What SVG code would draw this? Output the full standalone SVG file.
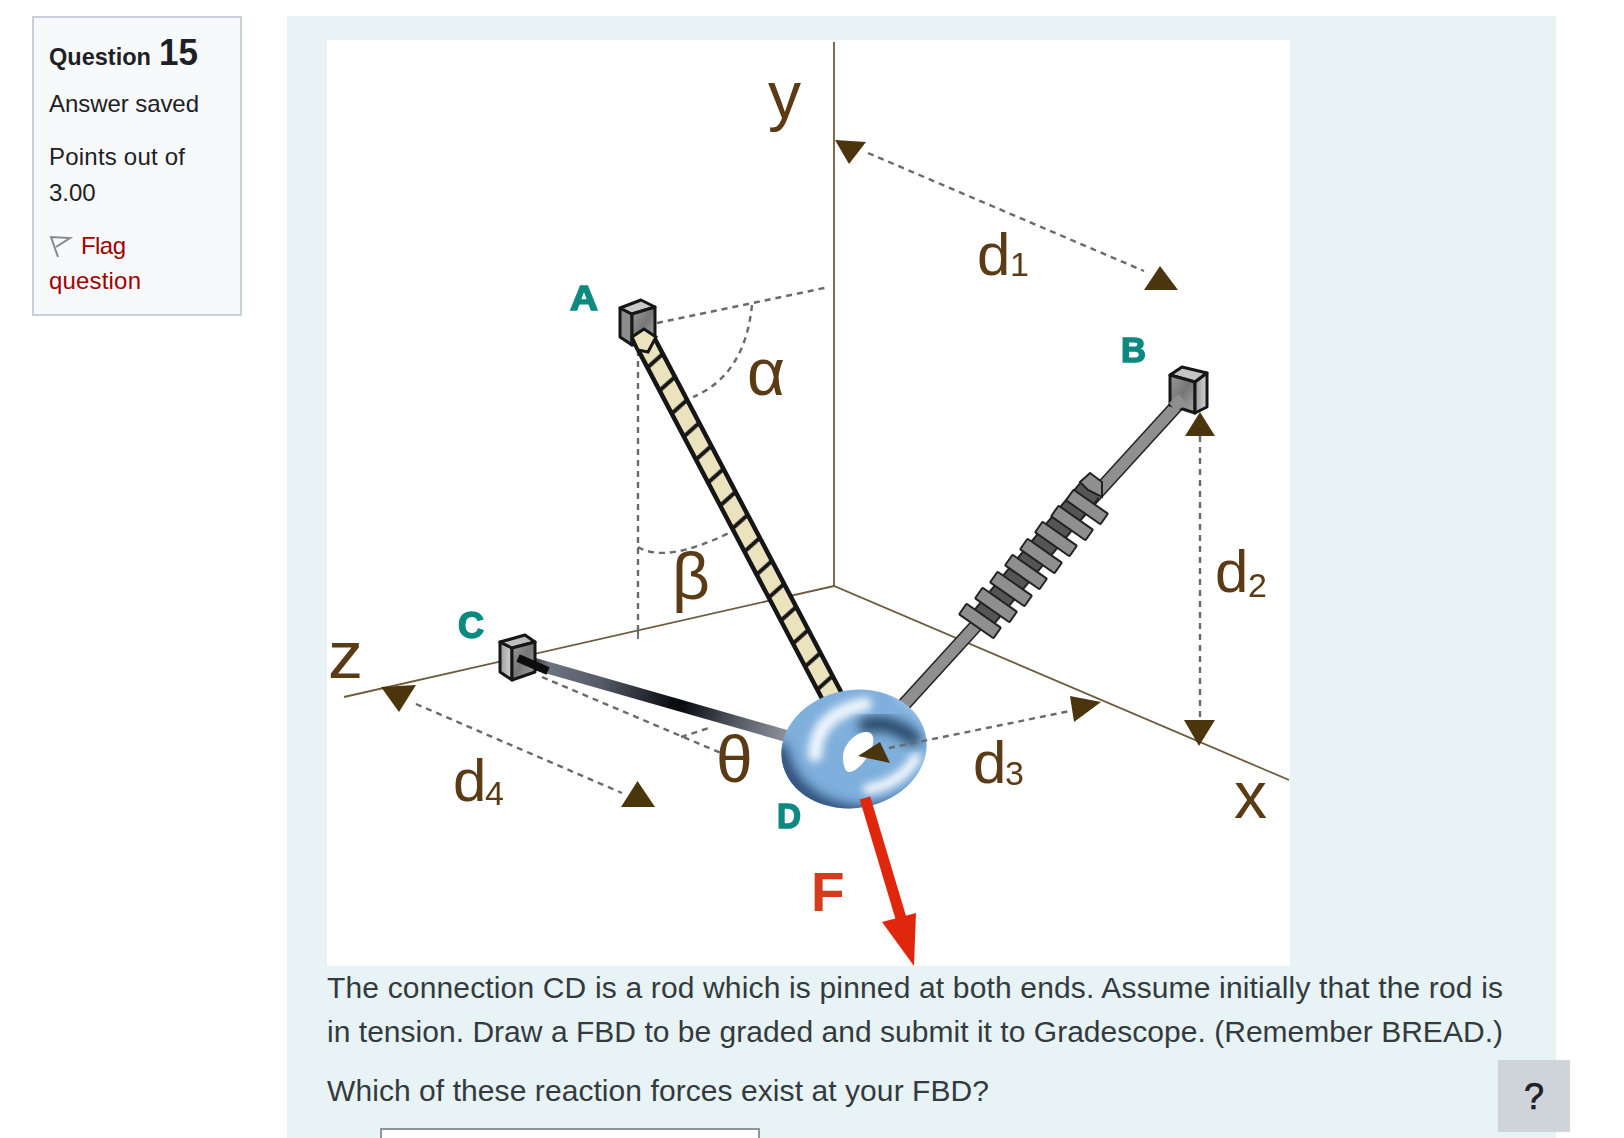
<svg xmlns="http://www.w3.org/2000/svg" width="1624" height="1138" viewBox="0 0 1624 1138">
<style>
text{font-family:"Liberation Sans",Arial,sans-serif}
.ui{font-size:24px;fill:#1d2125}
.body{font-size:30px;fill:#343a3d}
.red{font-size:24px;fill:#a00000}
.lab{font-size:66px;fill:#5a3a12}
.dv{font-size:60px;fill:#5a3a12}
.sub{font-size:34px;fill:#5a3a12}
.pt{font-size:35px;font-weight:700;fill:#0b8a80;stroke:#0b8a80;stroke-width:1.5px}
.ax{fill:none;stroke:#6d5b3f;stroke-width:1.8}
.dash{fill:none;stroke:#6a6a6a;stroke-width:2.4;stroke-dasharray:6 5}
.tri{fill:#4c3510}
.bl{stroke:#151515;stroke-width:3;stroke-linejoin:round}
</style>
<defs>
<pattern id="hatch" width="26" height="24" patternUnits="userSpaceOnUse" x="-6" y="-12">
<rect width="26" height="24" fill="#ebe3bd"/>
<path d="M15.500 24L9.500 0" stroke="#151515" stroke-width="4" fill="none"/>
</pattern>
<linearGradient id="front" x1="0" y1="0" x2="1" y2="1"><stop offset="0" stop-color="#9a9a9a"/><stop offset=".5" stop-color="#777"/><stop offset="1" stop-color="#a8a8a8"/></linearGradient>
<linearGradient id="side" x1="0" y1="0" x2="1" y2="0"><stop offset="0" stop-color="#9c9c9c"/><stop offset="1" stop-color="#d2d2d2"/></linearGradient>
<linearGradient id="cd" gradientUnits="userSpaceOnUse" x1="521" y1="660" x2="785" y2="735">
<stop offset="0" stop-color="#111"/><stop offset=".1" stop-color="#6d7480"/><stop offset=".3" stop-color="#555b68"/><stop offset=".6" stop-color="#05070d"/><stop offset=".82" stop-color="#555b66"/><stop offset="1" stop-color="#8b8f98"/>
</linearGradient>
<filter id="b6" x="-50%" y="-50%" width="200%" height="200%"><feGaussianBlur stdDeviation="6"/></filter>
<filter id="b3" x="-50%" y="-50%" width="200%" height="200%"><feGaussianBlur stdDeviation="4"/></filter>
<filter id="soft" x="0" y="0" width="100%" height="100%" filterUnits="userSpaceOnUse"><feGaussianBlur stdDeviation="0.6"/></filter>
<clipPath id="torclip"><ellipse cx="854" cy="749" rx="73" ry="59" transform="rotate(-10 854 749)"/></clipPath>
<g id="plate"><rect x="-21" y="-6.500" width="42" height="13" rx="1" fill="#8f8f8f" stroke="#222" stroke-width="2" transform="rotate(35)"/></g>
</defs>

<rect width="1624" height="1138" fill="#fff"/>
<g id="info">
<rect x="33" y="17" width="208" height="298" fill="#f8f9fb" stroke="#c8d1da" stroke-width="2"/>
<text x="49" y="65" textLength="102" lengthAdjust="spacingAndGlyphs" style="font-size:24px;font-weight:700;fill:#1d2125">Question</text>
<text x="159" y="65" textLength="39" lengthAdjust="spacingAndGlyphs" style="font-size:37px;font-weight:700;fill:#1d2125">15</text>
<text class="ui" x="49" y="112" textLength="150">Answer saved</text>
<text class="ui" x="49" y="165" textLength="136">Points out of</text>
<text class="ui" x="49" y="201">3.00</text>
<path d="M58 257L51 237L70 238L56 247" fill="none" stroke="#888" stroke-width="2"/>
<text class="red" x="81" y="254" textLength="45">Flag</text>
<text class="red" x="49" y="289" textLength="92">question</text>
</g>
<rect id="panel" x="287" y="16" width="1269" height="1122" fill="#e7f3f5"/>
<rect id="figure" x="327" y="40" width="963" height="926" fill="#fff"/>

<g filter="url(#soft)">
<g id="connectors">
<path class="ax" d="M834 42V586"/>
<path class="ax" d="M344 697L834 586L1289 780"/>
<path d="M638 627v12" stroke="#444" stroke-width="1.5"/>
<path class="dash" d="M657 323L829 287"/>
<path class="dash" d="M638 350V633"/>
<path class="dash" d="M752 305Q745 375 693 397"/>
<path class="dash" d="M638 547Q666 564 731 532"/>
<path class="dash" d="M868 153L1144 271"/>
<path class="dash" d="M1200 436V720"/>
<path class="dash" d="M416 704L622 793"/>
<path class="dash" d="M542 677L721 753"/>
<path class="dash" d="M681 737L712 727"/>
</g>

<g id="rod-cd"><path d="M521 660L790 737" stroke="url(#cd)" stroke-width="12" fill="none"/></g>
<g id="rod-ad" transform="translate(640 332) rotate(62.2)">
<rect x="-6" y="-10" width="425" height="20" fill="url(#hatch)" stroke="#151515" stroke-width="4.500"/>
</g>
<g id="spring-bd">
<path d="M1180 402L900 709" stroke="#222" stroke-width="14" fill="none"/>
<path d="M1180 402L900 709" stroke="#8f8f8f" stroke-width="11" fill="none"/>
<path d="M1090 490L980 622" stroke="#222" stroke-width="26" fill="none"/>
<path d="M1090 490L980 622" stroke="#555" stroke-width="22" fill="none"/>
<path d="M1080 482L1090 473L1102 482V497L1088 490Z" fill="#8f8f8f" stroke="#222" stroke-width="2"/>
<use href="#plate" x="1087" y="507"/><use href="#plate" x="1072" y="523"/><use href="#plate" x="1056" y="539"/><use href="#plate" x="1041" y="556"/>
<use href="#plate" x="1026" y="572"/><use href="#plate" x="1011" y="589"/><use href="#plate" x="996" y="605"/><use href="#plate" x="980" y="621"/>
</g>
<g id="node-A">
<path class="bl" d="M620 308L632 314V345L620 337Z" fill="#8c8c8c"/>
<path class="bl" d="M620 308L641 300L655 307L632 314Z" fill="#c9c9c9"/>
<path class="bl" d="M632 314L655 307V337L632 345Z" fill="url(#front)"/>
<path d="M632 337L644 329L656 337L648 352L638 350Z" fill="#ebe3bd" stroke="#151515" stroke-width="3"/>
<text class="pt" x="570" y="310" textLength="28" lengthAdjust="spacingAndGlyphs">A</text>
</g>
<g id="node-B">
<path class="bl" d="M1170 375L1182 367L1207 373L1195 382Z" fill="#c4c4c4"/>
<path class="bl" d="M1170 375L1195 382V413L1170 405Z" fill="url(#front)"/>
<path class="bl" d="M1195 382L1207 373V407L1195 413Z" fill="url(#side)"/>
<path d="M1169 403L1179 394L1187 404L1176 412Z" fill="#8f8f8f"/>
<text class="pt" x="1121" y="362" textLength="25" lengthAdjust="spacingAndGlyphs">B</text>
</g>
<g id="node-C">
<path class="bl" d="M500 642L512 648V680L500 672Z" fill="url(#side)"/>
<path class="bl" d="M500 642L525 635L535 642L512 648Z" fill="#bdbdbd"/>
<path class="bl" d="M512 648L535 642V672L512 680Z" fill="url(#front)"/>
<path d="M518 658L548 671" stroke="#0c0c0c" stroke-width="8" fill="none"/>
<text class="pt" x="458" y="638" textLength="26" lengthAdjust="spacingAndGlyphs" style="font-size:36px">C</text>
</g>
<g id="node-D">
<ellipse cx="854" cy="749" rx="73" ry="59" fill="#7fafdc" transform="rotate(-10 854 749)"/>
<g clip-path="url(#torclip)">
<path d="M778 745Q790 805 855 814Q900 815 930 785" fill="none" stroke="#1c3a64" stroke-width="16" opacity=".85" filter="url(#b6)"/>
<path d="M815 755Q815 715 865 704" fill="none" stroke="#f0f7fd" stroke-width="14" stroke-linecap="round" filter="url(#b3)"/>
<path d="M860 727Q888 716 918 742" fill="none" stroke="#23415f" stroke-width="14" filter="url(#b6)"/>
<path d="M868 789Q900 784 916 758" fill="none" stroke="#ffffff" stroke-width="10" stroke-linecap="round" filter="url(#b3)"/>
<path d="M895 690Q925 705 935 735" fill="none" stroke="#b5d6f2" stroke-width="10" filter="url(#b6)"/>
</g>
<path d="M843 757C843 744 856 732 866 732C875 732 875 742 870 752C864 764 855 772 849 772C845 772 843 765 843 757Z" fill="#fff"/>
<text class="pt" x="777" y="828" textLength="24" lengthAdjust="spacingAndGlyphs">D</text>
</g>
<g id="force-F">
<path d="M865 798L903 925" stroke="#e0280c" stroke-width="11" fill="none"/>
<path d="M882 922L916 913L914 966Z" fill="#e0280c"/>
<text x="811" y="911" style="font-size:55px;font-weight:700;fill:#d33c1c">F</text>
</g>
<g id="dim-arrows">
<path class="dash" d="M889 748L1070 711"/>
<path class="tri" d="M835 140L866 142L849 164Z"/>
<path class="tri" d="M1160 266L1144 290L1178 290Z"/>
<path class="tri" d="M1185 436H1215L1200 412Z"/>
<path class="tri" d="M1184 720H1215L1199 746Z"/>
<path class="tri" d="M1070 696L1101 702L1074 722Z"/>
<path class="tri" d="M858 756L880 742L890 763Z"/>
<path class="tri" d="M381 687L416 685L399 712Z"/>
<path class="tri" d="M621 807H655L637.500 781Z"/>
</g>
<g id="labels">
<text class="lab" x="768" y="118">y</text>
<text class="lab" x="1234" y="818">x</text>
<text class="lab" x="328" y="678" textLength="35" lengthAdjust="spacingAndGlyphs">z</text>
<text class="lab" x="747" y="395" textLength="38" lengthAdjust="spacingAndGlyphs">α</text>
<text class="lab" x="672" y="599">β</text>
<text class="lab" x="716" y="782">θ</text>
<text class="dv" x="977" y="275">d</text><text class="sub" x="1010" y="276">1</text>
<text class="dv" x="1215" y="592">d</text><text class="sub" x="1248" y="597">2</text>
<text class="dv" x="973" y="783">d</text><text class="sub" x="1005" y="785">3</text>
<text class="dv" x="453" y="801">d</text><text class="sub" x="485" y="805">4</text>
</g>
</g>
<g id="question-text">
<text class="body" x="327" y="998" textLength="1176">The connection CD is a rod which is pinned at both ends. Assume initially that the rod is</text>
<text class="body" x="327" y="1042" textLength="1176">in tension. Draw a FBD to be graded and submit it to Gradescope. (Remember BREAD.)</text>
<text class="body" x="327" y="1101" textLength="662">Which of these reaction forces exist at your FBD?</text>
<rect x="381" y="1129" width="378" height="12" fill="#fff" stroke="#8f959e" stroke-width="2"/>
</g>
<g id="help">
<rect x="1498" y="1060" width="72" height="72" fill="#ced4da"/>
<text x="1534" y="1109" text-anchor="middle" style="font-size:36px;fill:#1d2125;stroke:#1d2125;stroke-width:.7px">?</text>
</g>
</svg>
